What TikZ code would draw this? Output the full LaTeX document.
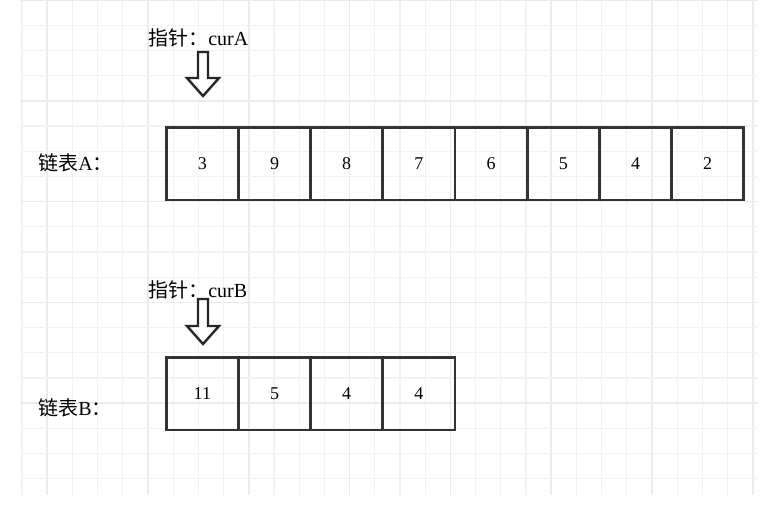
\documentclass[tikz,border=0pt]{standalone}
\usepackage{fontspec}
\setmainfont{Liberation Serif}
\newfontfamily\cjk{Noto Sans CJK SC}
\begin{document}
\begin{tikzpicture}[x=0.75pt,y=-0.75pt,
  cell/.style={draw=black!80,line width=2pt,minimum width=72*0.75pt,minimum height=72.5*0.75pt,inner sep=0pt,font=\fontsize{13.5}{13.5}\selectfont,anchor=north west},
  lbl/.style={font=\fontsize{15}{15}\selectfont,anchor=west,inner sep=0pt},
  harrow/.style={draw=black!85,line width=1.8pt,fill=white,line join=miter}]
\useasboundingbox (0,0) rectangle (783,511);
\fill[white] (0,0) rectangle (783,511);
\foreach \k in {0,...,29}{
  \pgfmathsetmacro\xx{22+25.2*\k}
  \pgfmathtruncatemacro\m{mod(\k,4)}
  \ifnum\m=1 \draw[black!8,line width=1.1pt] (\xx,0) -- (\xx,495);
  \else \draw[black!5,line width=0.8pt] (\xx,0) -- (\xx,495);\fi}
\foreach \k in {0,...,19}{
  \pgfmathsetmacro\yy{25.2*\k}
  \pgfmathtruncatemacro\m{mod(\k,4)}
  \ifnum\m=0 \draw[black!8,line width=1.1pt] (20,\yy) -- (758,\yy);
  \else \draw[black!5,line width=0.8pt] (20,\yy) -- (758,\yy);\fi}
\foreach \v [count=\i from 0] in {3,9,8,7,6,5,4,2}
  \node[cell] (a\i) at (165+72.2*\i,126) {\v};
\foreach \v [count=\i from 0] in {11,5,4,4}
  \node[cell] (b\i) at (165+72.2*\i,356) {\v};
\node[lbl] (la) at (38,163) {{\cjk 链表}A{\cjk ：}};
\node[lbl] (lb) at (38,408) {{\cjk 链表}B{\cjk ：}};
\node[lbl] (pa) at (148,38) {{\cjk 指针：}curA};
\node[lbl] (pb) at (148,290) {{\cjk 指针：}curB};
\draw[harrow] (198,52) -- (208,52) -- (208,78) -- (219,78) -- (203,96) -- (187,78) -- (198,78) -- cycle;
\draw[harrow] (198,299) -- (208,299) -- (208,326) -- (219,326) -- (203,344) -- (187,326) -- (198,326) -- cycle;
\end{tikzpicture}
\end{document}
